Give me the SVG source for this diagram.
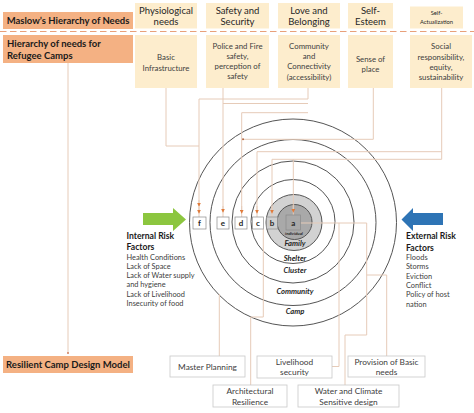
<svg xmlns="http://www.w3.org/2000/svg" width="474" height="413" viewBox="0 0 474 413">
<defs>
<style>
text{font-family:Lato,"Open Sans","Liberation Sans",sans-serif;fill:#262626}
.hb{fill:#f4b183}
.cb{fill:#fdedcd}
.ht{font-size:9.5px;font-weight:bold;fill:#1a1a1a}
.mt{font-size:9.5px;text-anchor:middle}
.st{font-size:7.8px;text-anchor:middle;fill:#404040}
.cn{fill:none;stroke:#e6cbb8;stroke-width:1}
.ring{fill:none;stroke:#555;stroke-width:1}
.lb{fill:#fff;stroke:#8a8a8a;stroke-width:0.7}
.lt{font-size:8px;font-weight:bold;text-anchor:middle}
.rl{font-size:7.6px;font-weight:bold;font-style:italic;text-anchor:middle}
.bb{fill:#fff;stroke:#c9c9c9;stroke-width:0.8}
.bt{font-size:8.3px;text-anchor:middle;fill:#404040}
.rk{font-size:8.6px;font-weight:bold;fill:#1a1a1a}
.rs{font-size:7.4px;fill:#404040}
</style>
<marker id="ah" viewBox="0 0 6 6" refX="5" refY="3" markerWidth="4" markerHeight="4" orient="auto">
<path d="M0,0 L6,3 L0,6 Z" fill="#e07b3c"/>
</marker>
</defs>

<g id="maslow-label"><rect class="hb" x="3" y="12" width="130" height="17"/><text class="ht" x="68" y="24.3" text-anchor="middle">Maslow’s Hierarchy of Needs</text></g>
<line x1="0" y1="31.5" x2="474" y2="31.5" stroke="#e8a07a" stroke-width="1" stroke-dasharray="6.5,3.5"/>
<g id="refugee-label"><rect class="hb" x="3" y="35" width="130" height="28"/><text class="ht" x="7" y="47">Hierarchy of needs for</text><text class="ht" x="7" y="58.5">Refugee Camps</text></g>
<g id="resilient-label"><rect class="hb" x="3" y="356" width="130" height="17"/><text class="ht" x="68" y="368" text-anchor="middle">Resilient Camp Design Model</text></g>

<g id="physiological"><rect class="cb" x="135" y="3" width="62" height="25.5"/><text class="mt" x="166" y="13.5">Physiological</text><text class="mt" x="166" y="25">needs</text></g>
<g id="safety"><rect class="cb" x="206" y="3" width="63" height="25.5"/><text class="mt" x="237.5" y="13.5">Safety and</text><text class="mt" x="237.5" y="25">Security</text></g>
<g id="love"><rect class="cb" x="278" y="3" width="62" height="25.5"/><text class="mt" x="309" y="13.5">Love and</text><text class="mt" x="309" y="25">Belonging</text></g>
<g id="esteem"><rect class="cb" x="348" y="3" width="45" height="25.5"/><text class="mt" x="370.5" y="13.5">Self-</text><text class="mt" x="370.5" y="25">Esteem</text></g>
<g id="actualization"><rect class="cb" x="410" y="6.5" width="53" height="22"/><text class="mt" x="436.5" y="14.5" style="font-size:5.8px">Self-</text><text class="mt" x="436.5" y="23.5" style="font-size:5.8px">Actualization</text></g>

<g id="basic-infrastructure"><rect class="cb" x="135" y="35" width="62" height="53"/><text class="st" x="166" y="60">Basic</text><text class="st" x="166" y="70.5">Infrastructure</text></g>
<g id="police-fire"><rect class="cb" x="206" y="35" width="63" height="53"/><text class="st" x="237.5" y="49">Police and Fire</text><text class="st" x="237.5" y="59">safety,</text><text class="st" x="237.5" y="69">perception of</text><text class="st" x="237.5" y="79">safety</text></g>
<g id="community-connectivity"><rect class="cb" x="278" y="35" width="62" height="53"/><text class="st" x="309" y="49">Community</text><text class="st" x="309" y="59">and</text><text class="st" x="309" y="69">Connectivity</text><text class="st" x="309" y="79.5">(accessibility)</text></g>
<g id="sense-of-place"><rect class="cb" x="348" y="35" width="45" height="53"/><text class="st" x="370.5" y="61.5">Sense of</text><text class="st" x="370.5" y="72">place</text></g>
<g id="social-responsibility"><rect class="cb" x="410" y="35" width="62" height="53"/><text class="st" x="441" y="49">Social</text><text class="st" x="441" y="59.5">responsibility,</text><text class="st" x="441" y="69.5">equity,</text><text class="st" x="441" y="80">sustainability</text></g>

<g id="circles">
<circle class="ring" cx="293" cy="222.5" r="103.5"/>
<circle class="ring" cx="293" cy="222.5" r="83"/>
<circle class="ring" cx="293" cy="222" r="61"/>
<circle class="ring" cx="293" cy="221.5" r="42"/>
<circle cx="294" cy="222.5" r="28" fill="#d2d2d2" stroke="#555" stroke-width="1"/>
<circle cx="294.5" cy="222" r="17.5" fill="#a9a9a9" stroke="#555" stroke-width="1"/>
</g>

<g id="connectors">
<path class="cn" d="M68,63 V353"/>
<circle cx="68" cy="353" r="1" fill="#d08060"/>
<path class="cn" d="M166,88 V146 H199"/>
<path class="cn" d="M199,99 H308 V88"/>
<path class="cn" d="M223,103.5 H308"/>
<path class="cn" d="M241.7,112.7 H308"/>
<path class="cn" d="M243,139.3 H373.3 V88"/>
<circle cx="243" cy="139.3" r="1" fill="#b0603a"/>
<path class="cn" d="M257,151.7 H441.7"/>
<path class="cn" d="M272,159.3 H441.7 V88"/>
<path class="cn" d="M199,99 V217"/>
<path class="cn" d="M223,88 V217"/>
<path class="cn" d="M241.7,112.7 V217"/>
<path class="cn" d="M257,151.7 V217"/>
<path class="cn" d="M272,159.3 V217"/>
<path class="cn" d="M293.3,159.3 V215"/>
<path class="cn" d="M300.5,223 H366.7 V335 H345 V385"/>
<path class="cn" d="M339,223 V366.5 H332"/>
<path class="cn" d="M366.7,275 H386.7 V356"/>
<path class="cn" d="M219.3,294 V356"/>
<path class="cn" d="M263.3,229 V317 H250.7 V385"/>
<path class="cn" d="M199,200 V206" marker-end="url(#ah)"/>
<path class="cn" d="M199,207 V213" marker-end="url(#ah)"/>
<path class="cn" d="M223,206 V212" marker-end="url(#ah)"/>
<path class="cn" d="M241.7,206 V213" marker-end="url(#ah)"/>
<path class="cn" d="M257,206 V213" marker-end="url(#ah)"/>
<path class="cn" d="M272,206 V213" marker-end="url(#ah)"/>
<path class="cn" d="M293.3,205 V212" marker-end="url(#ah)"/>
</g>

<g id="ring-labels">
<text class="rl" x="295" y="245.5">Family</text>
<text class="rl" x="295" y="260.5">Shelter</text>
<text class="rl" x="295" y="273">Cluster</text>
<text class="rl" x="295" y="293.5">Community</text>
<text class="rl" x="295" y="314">Camp</text>
<text class="rl" x="294" y="234.5" style="font-size:4.3px">individual</text>
</g>

<g id="box-f"><rect class="lb" x="193" y="217" width="13" height="12"/><text class="lt" x="199.5" y="226">f</text></g>
<g id="box-e"><rect class="lb" x="217" y="217" width="12" height="12"/><text class="lt" x="223" y="226">e</text></g>
<g id="box-d"><rect class="lb" x="235" y="217" width="12" height="12"/><text class="lt" x="241" y="226">d</text></g>
<g id="box-c"><rect class="lb" x="252.5" y="217" width="11" height="12"/><text class="lt" x="258" y="226">c</text></g>
<g id="box-b"><rect class="lb" x="266.5" y="217" width="11" height="12" style="fill:#cfcfcf"/><text class="lt" x="272" y="226">b</text></g>
<g id="box-a"><rect class="lb" x="286" y="215" width="14.5" height="15" style="fill:#a9a9a9"/><text class="lt" x="293.3" y="225.5">a</text></g>

<g id="internal-risk">
<polygon points="143,213 173,213 173,208 186,219.5 173,231 173,225 143,225" fill="#8cc63f"/>
<text class="rk" x="126.5" y="239">Internal Risk</text>
<text class="rk" x="126.5" y="250">Factors</text>
<text class="rs" x="126.5" y="259.5">Health Conditions</text>
<text class="rs" x="126.5" y="268.8">Lack of Space</text>
<text class="rs" x="126.5" y="278.1">Lack of Water supply</text>
<text class="rs" x="126.5" y="287.4">and hygiene</text>
<text class="rs" x="126.5" y="296.7">Lack of Livelihood</text>
<text class="rs" x="126.5" y="306">Insecurity of food</text>
</g>
<g id="external-risk">
<polygon points="401.5,219.5 413,208 413,213 443,213 443,225 413,225 413,231" fill="#2e74b5"/>
<text class="rk" x="406" y="239.3">External Risk</text>
<text class="rk" x="406" y="250.6">Factors</text>
<text class="rs" x="406" y="260">Floods</text>
<text class="rs" x="406" y="269.3">Storms</text>
<text class="rs" x="406" y="278.6">Eviction</text>
<text class="rs" x="406" y="287.9">Conflict</text>
<text class="rs" x="406" y="297.2">Policy of host</text>
<text class="rs" x="406" y="306.5">nation</text>
</g>

<g id="master-planning"><rect class="bb" x="170" y="356" width="75" height="21"/><text class="bt" x="207.5" y="369.8">Master Planning</text></g>
<g id="livelihood"><rect class="bb" x="257" y="356" width="75" height="22"/><text class="bt" x="294.5" y="364.8">Livelihood</text><text class="bt" x="294.5" y="375">security</text></g>
<g id="provision"><rect class="bb" x="348" y="356" width="77" height="21"/><text class="bt" x="386.5" y="364.8">Provision of Basic</text><text class="bt" x="386.5" y="375">needs</text></g>
<g id="architectural"><rect class="bb" x="213" y="385" width="74" height="22"/><text class="bt" x="250" y="394">Architectural</text><text class="bt" x="250" y="404.5">Resilience</text></g>
<g id="water-climate"><rect class="bb" x="298" y="385" width="101" height="22"/><text class="bt" x="348.5" y="394">Water and Climate</text><text class="bt" x="348.5" y="404.5">Sensitive design</text></g>
</svg>
